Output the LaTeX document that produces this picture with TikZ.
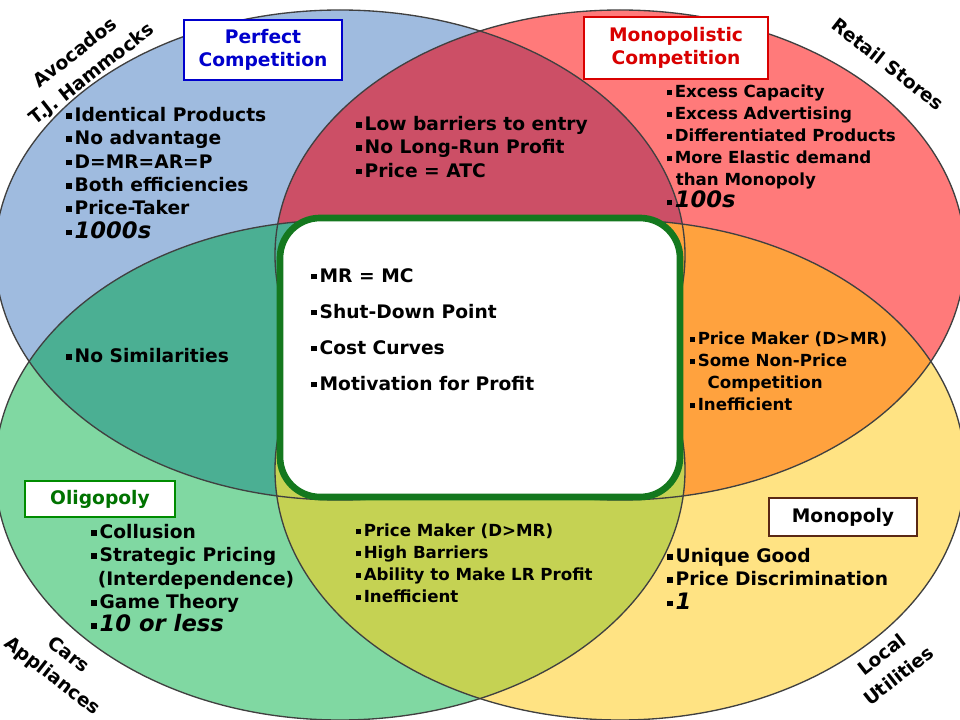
\documentclass[tikz,border=0pt]{standalone}
\usepackage{fontspec}
\setmainfont{DejaVu Sans}
\usetikzlibrary{positioning}
\definecolor{cB}{HTML}{9FBBDF}
\definecolor{cR}{HTML}{FF7A7A}
\definecolor{cG}{HTML}{80D8A2}
\definecolor{cY}{HTML}{FFE383}
\definecolor{cBR}{HTML}{CC4F66}
\definecolor{cBG}{HTML}{4BAF93}
\definecolor{cRY}{HTML}{FFA23E}
\definecolor{cGY}{HTML}{C5D253}
\newcommand{\bsq}{\rule[0.15em]{0.3em}{0.3em}\hspace{0.15em}}
\tikzset{
 txt/.style={anchor=north west,align=left,font=\bfseries\fontsize{14}{17.5}\selectfont,inner sep=0pt},
 sm/.style={anchor=north west,align=left,font=\bfseries\fontsize{12.5}{16.5}\selectfont,inner sep=0pt},
 corner/.style={align=center,font=\bfseries\fontsize{14}{20}\selectfont,inner sep=1pt},
 title/.style={draw,line width=2pt,fill=white,align=center,font=\bfseries\fontsize{14}{17}\selectfont,text=#1,inner sep=4pt},
 edge/.style={draw=black!75,line width=1pt}
}
\begin{document}
\begin{tikzpicture}[x=0.75pt,y=-0.75pt]
\useasboundingbox (0,0) rectangle (960,720);
\def\EB{(340,255) ellipse [x radius=345,y radius=245]}
\def\ER{(620,255) ellipse [x radius=345,y radius=245]}
\def\EG{(340,470) ellipse [x radius=345,y radius=250]}
\def\EY{(620,470) ellipse [x radius=345,y radius=250]}
\fill[white] (0,0) rectangle (960,720);
\fill[cB] \EB; \fill[cR] \ER; \fill[cG] \EG; \fill[cY] \EY;
\begin{scope}\clip \EB; \fill[cBR] \ER; \end{scope}
\begin{scope}\clip \EB; \fill[cBG] \EG; \end{scope}
\begin{scope}\clip \ER; \fill[cRY] \EY; \end{scope}
\begin{scope}\clip \EG; \fill[cGY] \EY; \end{scope}
\draw[edge] \EB; \draw[edge] \ER; \draw[edge] \EG; \draw[edge] \EY;
\draw[draw={rgb,255:red,20;green,120;blue,30},line width=5pt,fill=white,rounded corners=30pt] (280,218) rectangle (680,497);

\node[title=blue!80!black,draw=blue!80!black,minimum width=158pt*0.75,minimum height=60pt*0.75] (pc) at (263,50) {Perfect\\Competition};
\node[title=red!85!black,draw=red!85!black,minimum width=184pt*0.75,minimum height=62pt*0.75] (mc) at (676,48) {Monopolistic\\Competition};
\node[title=green!45!black,draw=green!55!black,minimum width=150pt*0.75,minimum height=36pt*0.75] (ol) at (100,499) {Oligopoly};
\node[title=black,draw={rgb,255:red,90;green,40;blue,20},minimum width=148pt*0.75,minimum height=38pt*0.75] (mo) at (843,517) {Monopoly};

\node[corner,rotate=38] (c1) at (84,64) {Avocados\\T.J. Hammocks};
\node[corner,rotate=-38] (c2) at (888,64) {Retail Stores};
\node[corner,rotate=-38] (c3) at (60,666) {Cars\\Appliances};
\node[corner,rotate=38] (c4) at (890,665) {Local\\Utilities};

\node[txt] (t1) at (66,107) {\bsq Identical Products\\\bsq No advantage\\\bsq D=MR=AR=P\\\bsq Both efficiencies\\\bsq Price-Taker\\\bsq{\itshape\fontsize{17}{19}\selectfont 1000s}};
\node[txt] (t2) at (356,116) {\bsq Low barriers to entry\\\bsq No Long-Run Profit\\\bsq Price = ATC};
\node[sm] (t3) at (667,85) {\bsq Excess Capacity\\\bsq Excess Advertising\\\bsq Differentiated Products\\\bsq More Elastic demand\\\ \,than Monopoly\\\bsq{\itshape\fontsize{17}{19}\selectfont 100s}};
\node[txt,font=\bfseries\fontsize{14}{27}\selectfont] (t4) at (311,268) {\bsq MR = MC\\\bsq Shut-Down Point\\\bsq Cost Curves\\\bsq Motivation for Profit};
\node[txt] (t5) at (66,348) {\bsq No Similarities};
\node[sm] (t6) at (690,332) {\bsq Price Maker (D>MR)\\\bsq Some Non-Price\\\ \ \ Competition\\\bsq Inefficient};
\node[txt] (t7) at (91,524) {\bsq Collusion\\\bsq Strategic Pricing\\\ (Interdependence)\\\bsq Game Theory\\\bsq{\itshape\fontsize{17}{19}\selectfont 10 or less}};
\node[sm] (t8) at (356,524) {\bsq Price Maker (D>MR)\\\bsq High Barriers\\\bsq Ability to Make LR Profit\\\bsq Inefficient};
\node[txt] (t9) at (667,548) {\bsq Unique Good\\\bsq Price Discrimination\\\bsq{\itshape\fontsize{17}{19}\selectfont 1}};
\end{tikzpicture}
\end{document}
